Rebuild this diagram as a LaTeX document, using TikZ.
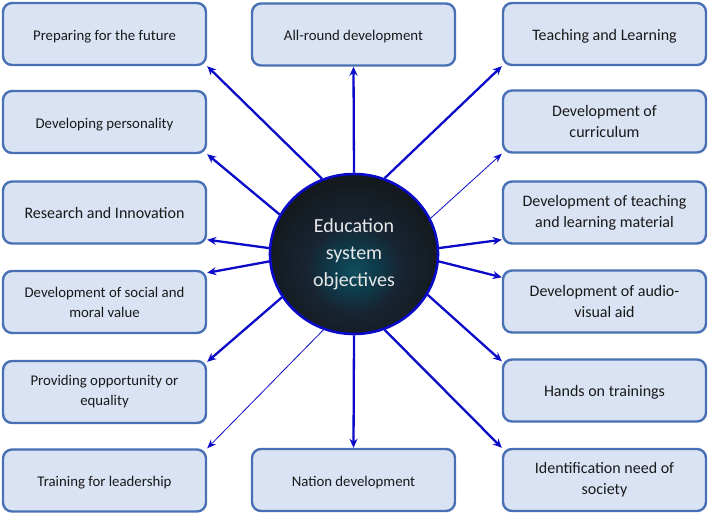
\documentclass[tikz,border=0pt]{standalone}
\usepackage{fontspec}
\setmainfont{Carlito}
\usetikzlibrary{shapes.geometric,arrows.meta,calc}
\definecolor{boxfill}{RGB}{218,227,243}
\definecolor{boxline}{RGB}{72,112,180}
\definecolor{arrowblue}{RGB}{10,10,200}
\definecolor{ctext}{RGB}{232,232,232}
\definecolor{shA}{RGB}{16,78,94}
\definecolor{shB}{RGB}{14,58,74}
\definecolor{shC}{RGB}{24,36,50}
\definecolor{shD}{RGB}{20,26,30}
\definecolor{shE}{RGB}{13,16,10}
\definecolor{shF}{RGB}{10,12,8}
\pgfdeclareradialshading{coreshade}{\pgfpoint{0bp}{-6bp}}{%
  color(0bp)=(shA);
  color(7bp)=(shB);
  color(14bp)=(shC);
  color(26bp)=(shD);
  color(40bp)=(shE);
  color(50bp)=(shF)}
\tikzset{
  objbox/.style={draw=boxline, line width=2.4pt, fill=boxfill, rounded corners=9pt,
    minimum width=203pt, minimum height=62pt, align=center, inner sep=2pt,
    text=black!90},
  oneline/.style={text height=12pt, text depth=0pt},
  smallfont/.style={font=\fontsize{14.8}{20}\selectfont},
  bigfont/.style={font=\fontsize{16}{21}\selectfont},
  thickarrow/.style={draw=arrowblue, line width=2.3pt, -{Stealth[length=9pt,width=8pt]}},
  thinarrow/.style={draw=arrowblue, line width=0.8pt, -{Stealth[length=9pt,width=7pt]}},
  core/.style={ellipse, draw=arrowblue, line width=2.6pt, shading=coreshade,
    minimum width=168pt, minimum height=160pt, inner sep=0pt, align=center,
    text=ctext, font=\fontsize{20}{27}\selectfont}
}
\begin{document}
\begin{tikzpicture}[x=1pt,y=-1pt]
\useasboundingbox (0,0) rectangle (712,528);
% left column
\node[objbox,smallfont,oneline] (prep) at (104.5,34) {Preparing for the future};
\node[objbox,smallfont,oneline] (pers) at (104.5,122) {Developing personality};
\node[objbox,bigfont,oneline] (res) at (104.5,212.5) {Research and Innovation};
\node[objbox,smallfont] (soc) at (104.5,302) {Development of social and\\moral value};
\node[objbox,smallfont] (prov) at (104.5,392) {Providing opportunity or\\equality};
\node[objbox,smallfont,oneline] (lead) at (104.5,480.5) {Training for leadership};
% middle column
\node[objbox,smallfont,oneline] (allr) at (353.5,34.5) {All-round development};
\node[objbox,smallfont,oneline] (nat) at (353.5,480) {Nation development};
% right column
\node[objbox,bigfont,oneline] (teach) at (604.5,34) {Teaching and Learning};
\node[objbox,bigfont] (curr) at (604.5,121.5) {Development of\\curriculum};
\node[objbox,bigfont] (mat) at (604.5,212.5) {Development of teaching\\and learning material};
\node[objbox,bigfont] (av) at (604.5,301.5) {Development of audio-\\visual aid};
\node[objbox,bigfont,oneline] (hands) at (604.5,390.5) {Hands on trainings};
\node[objbox,bigfont] (ident) at (604.5,480) {Identification need of\\society};
% centre
\node[core] (c) at (354,254) {Education\\system\\objectives};
% connectors
\draw[thickarrow] (c.113) -- (prep.south east);
\draw[thickarrow] (c.152) -- (pers.south east);
\draw[thickarrow] (c.176) -- ($(res.south east)+(0,-5)$);
\draw[thickarrow] (c.185) -- ($(soc.north east)+(0,3)$);
\draw[thickarrow] (c.211) -- ($(prov.north east)+(0,2)$);
\draw[thinarrow] (c.248) -- (lead.north east);
\draw[thickarrow] (c.90) -- (allr.south);
\draw[thickarrow] (c.270) -- (nat.north);
\draw[thickarrow] (c.68) -- (teach.south west);
\draw[thinarrow] (c.25) -- (curr.south west);
\draw[thickarrow] (c.4) -- ($(mat.south west)+(0,-5)$);
\draw[thickarrow] (c.355) -- ($(av.north west)+(0,8)$);
\draw[thickarrow] (c.331) -- ($(hands.north west)+(0,3)$);
\draw[thickarrow] (c.292) -- (ident.north west);
\end{tikzpicture}
\end{document}
